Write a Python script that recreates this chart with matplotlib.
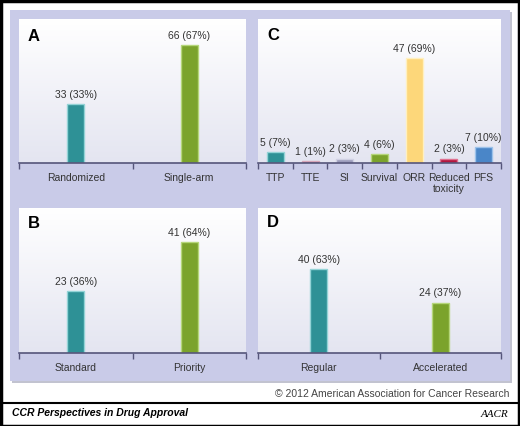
import matplotlib.pyplot as plt
import numpy as np
from matplotlib.patches import Rectangle
from matplotlib.colors import LinearSegmentedColormap

plt.rcParams['font.family'] = ['Liberation Sans', 'DejaVu Sans']

W, H = 520, 426

# data
a_cats = ["Randomized", "Single-arm"]
a_vals = [33, 66]
a_pct = [33, 67]

b_cats = ["Standard", "Priority"]
b_vals = [23, 41]
b_pct = [36, 64]

c_cats = ["TTP", "TTE", "SI", "Survival", "ORR", "Reduced\ntoxicity", "PFS"]
c_vals = [5, 1, 2, 4, 47, 2, 7]
c_pct = [7, 1, 3, 6, 69, 3, 10]

d_cats = ["Regular", "Accelerated"]
d_vals = [40, 24]
d_pct = [63, 37]

teal, teal_e = "#2e9196", "#93d3d6"
green, green_e = "#7ba32c", "#b5d67a"
c_colors = [teal, "#a05474", "#9c9cbc", green, "#fdd77a", "#b3173f", "#4a86c8"]
c_edges = [teal_e, "#d6a5b8", "#cfd0e2", green_e, "#fff0c0", "#e07090", "#9cc2ea"]

fig = plt.figure(figsize=(W / 100, H / 100), dpi=100)
fig.patch.set_facecolor("white")


def px_rect(x0, y0, x1, y1):
    return [x0 / W, 1 - y1 / H, (x1 - x0) / W, (y1 - y0) / H]


# lavender panel with soft shadow
fig.add_artist(Rectangle((12 / W, 1 - 383 / H), 500 / W, 371 / H,
                         transform=fig.transFigure, facecolor="#c2c3d0",
                         edgecolor="none", zorder=-2))
fig.add_artist(Rectangle((10 / W, 1 - 381 / H), 500 / W, 371 / H,
                         transform=fig.transFigure, facecolor="#c9cbe8",
                         edgecolor="none", zorder=-1))

grad = LinearSegmentedColormap.from_list("g", ["#e4e5f1", "#ffffff"])
ramp = np.linspace(0, 1, 100).reshape(-1, 1)


def panel(rect, cats, vals, pct, ymax, colors, edges, width, letter, lx, ly):
    ax = fig.add_axes(px_rect(*rect))
    ax.set_facecolor("white")
    ax.imshow(ramp, cmap=grad, extent=(0, 1, 0, 1), transform=ax.transAxes,
              aspect="auto", zorder=0, origin="lower")
    n = len(cats)
    x = np.arange(n) + 0.5
    ax.bar(x, vals, width=width, color=colors, edgecolor=edges, linewidth=1, zorder=2)
    for xi, v, p in zip(x, vals, pct):
        ax.annotate(f"{v} ({p}%)", (xi, v), xytext=(0, 3), textcoords="offset points",
                    ha="center", va="bottom", fontsize=7.5, color="#333333")
    ax.set_xlim(0, n)
    ax.set_ylim(0, ymax)
    for s in ["top", "left", "right"]:
        ax.spines[s].set_visible(False)
    ax.spines["bottom"].set_color("#55557a")
    ax.spines["bottom"].set_linewidth(1.2)
    ax.set_yticks([])
    ax.set_xticks(np.arange(n + 1))
    ax.set_xticklabels([])
    ax.set_xticks(x, minor=True)
    ax.set_xticklabels(cats, minor=True, fontsize=7.5, color="#333333", linespacing=1.1)
    ax.tick_params(axis="x", which="major", length=4, width=1, color="#55557a", direction="out")
    ax.tick_params(axis="x", which="minor", length=0, pad=7.5)
    fig.text(lx / W, 1 - ly / H, letter, fontsize=12, fontweight="bold",
             ha="left", va="baseline", color="black")
    return ax


panel((19, 19, 246, 163), a_cats, a_vals, a_pct, 80.5, [teal, green], [teal_e, green_e], 0.15, "A", 28, 41)
panel((19, 208, 246, 353), b_cats, b_vals, b_pct, 53.7, [teal, green], [teal_e, green_e], 0.15, "B", 28, 228)
panel((258, 19, 501, 163), c_cats, c_vals, c_pct, 64.5, c_colors, c_edges, 0.49, "C", 267, 40)
panel((258, 208, 501, 353), d_cats, d_vals, d_pct, 69, [teal, green], [teal_e, green_e], 0.14, "D", 267, 227)

fig.text(509 / W, 1 - 397 / H, "\u00a9 2012 American Association for Cancer Research",
         fontsize=7.5, ha="right", va="baseline", color="#444444")

# footer and border
fig.add_artist(plt.Line2D([0, 1], [1 - 403 / H] * 2, transform=fig.transFigure,
                          color="black", linewidth=1.5))
fig.add_artist(Rectangle((0.5 / W, 0.5 / H), 1 - 1.5 / W, 1 - 1.5 / H,
                         transform=fig.transFigure, facecolor="none",
                         edgecolor="black", linewidth=2.5, zorder=5))
fig.text(12 / W, 1 - 416 / H, "CCR Perspectives in Drug Approval", fontsize=7.5,
         fontweight="bold", fontstyle="italic", ha="left", va="baseline", color="black")
fig.text(508 / W, 1 - 417 / H, "AACR", fontsize=8, fontstyle="italic",
         family="Liberation Serif", ha="right", va="baseline", color="black")

fig.savefig("out.png", dpi=100)
